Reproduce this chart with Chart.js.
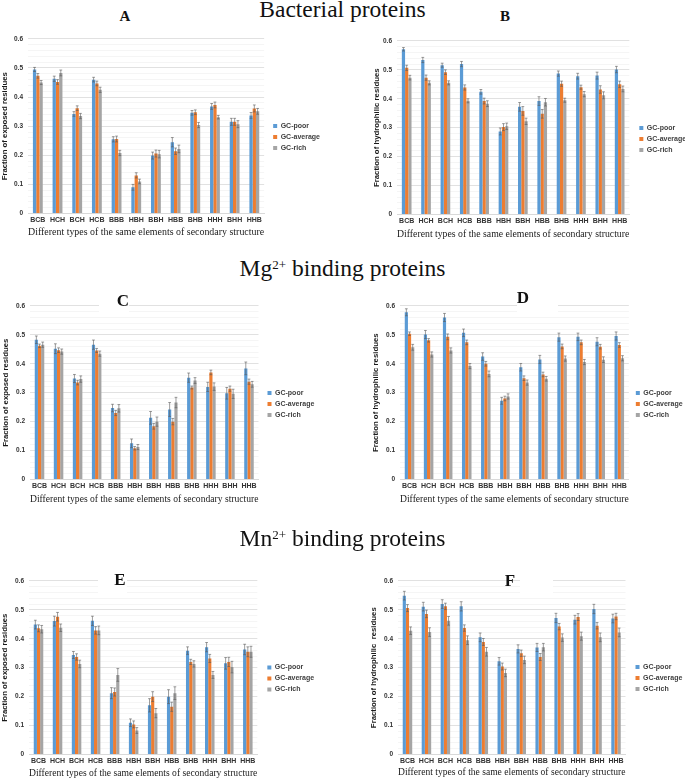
<!DOCTYPE html>
<html lang="en">
<head>
  <meta charset="UTF-8">
  <title>Exposed and hydrophilic residues by GC content</title>
  <script src="https://cdn.jsdelivr.net/npm/chart.js@4.4.1/dist/chart.umd.min.js"></script>
  <style>
    body {
      margin: 0;
      background: #fff;
      width: 685px;
      height: 779px;
      overflow: hidden;
      position: relative;
      font-family: "Liberation Serif", "Times New Roman", serif;
    }
    .heading {
      position: absolute;
      left: 0;
      width: 685px;
      text-align: center;
      font-size: 23.5px;
      line-height: 1;
      color: #111;
      z-index: 3;
    }
    .heading sup {
      font-size: 13px;
      line-height: 0;
      vertical-align: 7px;
    }
    .letter {
      position: absolute;
      width: 40px;
      text-align: center;
      font-weight: bold;
      line-height: 1;
      color: #111;
      z-index: 3;
    }
    .mask {
      position: absolute;
      background: #fff;
      z-index: 2;
    }
    canvas { position: absolute; z-index: 1; }
  </style>
</head>
<body>
  <div class="heading" style="top:-2px">Bacterial proteins</div>
  <div class="heading" style="top:257px">Mg<sup>2+</sup> binding proteins</div>
  <div class="heading" style="top:527px">Mn<sup>2+</sup> binding proteins</div>

  <div class="mask" style="left:99px;top:288px;width:30px;height:28px"></div>
  <div class="mask" style="left:517px;top:288px;width:41px;height:28px"></div>
  <div class="mask" style="left:98px;top:568px;width:29px;height:26px"></div>
  <div class="mask" style="left:520px;top:568px;width:33px;height:26px"></div>

  <div class="letter" style="left:105px;top:9px;font-size:15px">A</div>
  <div class="letter" style="left:485px;top:9px;font-size:15px">B</div>
  <div class="letter" style="left:103px;top:292px;font-size:17px">C</div>
  <div class="letter" style="left:503px;top:289px;font-size:17px">D</div>
  <div class="letter" style="left:100px;top:571px;font-size:17px">E</div>
  <div class="letter" style="left:490px;top:572px;font-size:17px">F</div>

  <script>
    const categories = ['BCB', 'HCH', 'BCH', 'HCB', 'BBB', 'HBH', 'BBH', 'HBB', 'BHB', 'HHH', 'BHH', 'HHB'];
    const seriesNames = ['GC-poor', 'GC-average', 'GC-rich'];
    const seriesColors = ['#5B9BD5', '#ED7D31', '#A5A5A5'];

    // A - bacterial proteins, exposed residues
    const aPoor = [0.495, 0.463, 0.342, 0.460, 0.255, 0.090, 0.199, 0.245, 0.346, 0.368, 0.315, 0.337];
    const aAverage = [0.473, 0.452, 0.362, 0.447, 0.256, 0.131, 0.206, 0.214, 0.348, 0.373, 0.315, 0.361];
    const aRich = [0.450, 0.483, 0.335, 0.425, 0.208, 0.110, 0.204, 0.222, 0.304, 0.331, 0.307, 0.351];
    const aPoorErr = [0.007, 0.009, 0.008, 0.008, 0.009, 0.010, 0.012, 0.016, 0.008, 0.010, 0.012, 0.010];
    const aAverageErr = [0.008, 0.008, 0.008, 0.008, 0.010, 0.009, 0.012, 0.011, 0.008, 0.010, 0.012, 0.012];
    const aRichErr = [0.007, 0.010, 0.009, 0.009, 0.009, 0.008, 0.013, 0.013, 0.009, 0.006, 0.012, 0.010];

    // B - bacterial proteins, hydrophilic residues
    const bPoor = [0.571, 0.534, 0.516, 0.520, 0.424, 0.287, 0.372, 0.392, 0.487, 0.478, 0.480, 0.501];
    const bAverage = [0.507, 0.473, 0.492, 0.439, 0.392, 0.302, 0.358, 0.348, 0.452, 0.440, 0.432, 0.450];
    const bRich = [0.473, 0.455, 0.455, 0.393, 0.383, 0.305, 0.322, 0.388, 0.395, 0.416, 0.412, 0.434];
    const bPoorErr = [0.006, 0.009, 0.007, 0.009, 0.008, 0.012, 0.015, 0.015, 0.009, 0.010, 0.012, 0.011];
    const bAverageErr = [0.009, 0.009, 0.008, 0.009, 0.010, 0.012, 0.015, 0.015, 0.009, 0.007, 0.013, 0.011];
    const bRichErr = [0.008, 0.007, 0.007, 0.007, 0.010, 0.011, 0.011, 0.013, 0.007, 0.009, 0.012, 0.010];

    // C - Mg2+ binding proteins, exposed residues
    const cPoor = [0.483, 0.452, 0.349, 0.466, 0.247, 0.125, 0.213, 0.242, 0.352, 0.320, 0.298, 0.384];
    const cAverage = [0.462, 0.447, 0.335, 0.446, 0.230, 0.108, 0.184, 0.200, 0.318, 0.370, 0.314, 0.338];
    const cRich = [0.466, 0.442, 0.347, 0.435, 0.246, 0.112, 0.200, 0.266, 0.342, 0.321, 0.296, 0.329];
    const cPoorErr = [0.013, 0.017, 0.014, 0.016, 0.013, 0.015, 0.022, 0.024, 0.016, 0.016, 0.020, 0.022];
    const cAverageErr = [0.006, 0.008, 0.008, 0.007, 0.009, 0.006, 0.010, 0.011, 0.005, 0.008, 0.009, 0.009];
    const cRichErr = [0.009, 0.009, 0.011, 0.009, 0.013, 0.009, 0.016, 0.018, 0.010, 0.013, 0.016, 0.010];

    // D - Mg2+ binding proteins, hydrophilic residues
    const dPoor = [0.578, 0.501, 0.560, 0.507, 0.425, 0.272, 0.388, 0.415, 0.492, 0.493, 0.476, 0.496];
    const dAverage = [0.504, 0.481, 0.493, 0.474, 0.400, 0.280, 0.350, 0.363, 0.460, 0.474, 0.459, 0.465];
    const dRich = [0.457, 0.432, 0.446, 0.392, 0.365, 0.287, 0.335, 0.348, 0.418, 0.406, 0.414, 0.419];
    const dPoorErr = [0.012, 0.014, 0.014, 0.013, 0.013, 0.012, 0.013, 0.014, 0.014, 0.013, 0.014, 0.014];
    const dAverageErr = [0.006, 0.006, 0.010, 0.008, 0.008, 0.008, 0.008, 0.008, 0.008, 0.008, 0.008, 0.008];
    const dRichErr = [0.010, 0.009, 0.009, 0.009, 0.010, 0.009, 0.009, 0.008, 0.009, 0.009, 0.010, 0.009];

    // E - Mn2+ binding proteins, exposed residues
    const ePoor = [0.449, 0.461, 0.344, 0.462, 0.212, 0.110, 0.170, 0.200, 0.359, 0.371, 0.315, 0.363];
    const eAverage = [0.436, 0.476, 0.337, 0.429, 0.216, 0.104, 0.200, 0.165, 0.320, 0.332, 0.320, 0.355];
    const eRich = [0.433, 0.438, 0.313, 0.429, 0.275, 0.083, 0.143, 0.212, 0.313, 0.275, 0.302, 0.355];
    const ePoorErr = [0.015, 0.017, 0.012, 0.016, 0.019, 0.013, 0.023, 0.024, 0.013, 0.016, 0.020, 0.018];
    const eAverageErr = [0.012, 0.015, 0.011, 0.013, 0.014, 0.012, 0.017, 0.016, 0.009, 0.014, 0.016, 0.017];
    const eRichErr = [0.013, 0.013, 0.013, 0.015, 0.022, 0.010, 0.016, 0.022, 0.011, 0.012, 0.020, 0.019];

    // F - Mn2+ binding proteins, hydrophilic residues
    const fPoor = [0.549, 0.511, 0.520, 0.512, 0.405, 0.322, 0.365, 0.370, 0.472, 0.466, 0.503, 0.470];
    const fAverage = [0.506, 0.486, 0.512, 0.437, 0.389, 0.304, 0.350, 0.337, 0.442, 0.475, 0.445, 0.477];
    const fRich = [0.428, 0.423, 0.462, 0.395, 0.355, 0.282, 0.327, 0.371, 0.404, 0.409, 0.405, 0.422];
    const fPoorErr = [0.015, 0.015, 0.015, 0.016, 0.015, 0.013, 0.014, 0.014, 0.016, 0.015, 0.016, 0.015];
    const fAverageErr = [0.012, 0.013, 0.011, 0.011, 0.012, 0.012, 0.011, 0.012, 0.011, 0.012, 0.011, 0.011];
    const fRichErr = [0.013, 0.015, 0.015, 0.015, 0.015, 0.013, 0.013, 0.013, 0.013, 0.014, 0.015, 0.015];

    const yTicks = [0, 0.1, 0.2, 0.3, 0.4, 0.5, 0.6];
    const xTitle = 'Different types of the same elements of secondary structure';
    const exposedTitle = 'Fraction of exposed residues';
    const hydroTitle = 'Fraction of hydrophilic residues';

    // where each panel sits on the page
    const panels = [
      { left: 0,   plotLeft: 28,  plotRight: 263, markerX: 272, plotTop: 35,  plotBottom: 213, xH: 25.5, yTitle: exposedTitle, values: [aPoor, aAverage, aRich], errors: [aPoorErr, aAverageErr, aRichErr] },
      { left: 372, plotLeft: 397, plotRight: 627, markerX: 637, plotTop: 36.5, plotBottom: 213.5, xH: 26.5, yTitle: hydroTitle, values: [bPoor, bAverage, bRich], errors: [bPoorErr, bAverageErr, bRichErr] },
      { left: 1,   plotLeft: 30,  plotRight: 256, markerX: 265, plotTop: 302, plotBottom: 479, xH: 26.5, yTitle: exposedTitle, values: [cPoor, cAverage, cRich], errors: [cPoorErr, cAverageErr, cRichErr] },
      { left: 371, plotLeft: 400, plotRight: 626, markerX: 633, plotTop: 302, plotBottom: 479, xH: 26.5, yTitle: hydroTitle, values: [dPoor, dAverage, dRich], errors: [dPoorErr, dAverageErr, dRichErr] },
      { left: 0,   plotLeft: 29,  plotRight: 255, markerX: 265, plotTop: 577, plotBottom: 754, xH: 25.5, yTitle: exposedTitle, values: [ePoor, eAverage, eRich], errors: [ePoorErr, eAverageErr, eRichErr] },
      { left: 369, plotLeft: 398, plotRight: 623, markerX: 633, plotTop: 577, plotBottom: 754, xH: 24.5, yTitle: 'Fraction of hydrophilic  residues', values: [fPoor, fAverage, fRich], errors: [fPoorErr, fAverageErr, fRichErr] }
    ];

    const sans = "'Liberation Sans', Arial, sans-serif";
    const serif = "'Liberation Serif', 'Times New Roman', serif";
    const legendFont = { size: 7, weight: 'bold', family: sans };
    const legendBox = 4;
    const legendPad = 4;

    const isMajor = v => Math.abs(v * 10 - Math.round(v * 10)) < 1e-6;

    const errorBars = {
      id: 'errorBars',
      afterDatasetsDraw(chart) {
        const ctx = chart.ctx;
        const y = chart.scales.y;
        ctx.save();
        ctx.strokeStyle = 'rgba(90, 90, 90, 0.75)';
        ctx.lineWidth = 0.8;
        chart.data.datasets.forEach((ds, i) => {
          chart.getDatasetMeta(i).data.forEach((bar, j) => {
            const top = y.getPixelForValue(ds.data[j] + ds.errors[j]);
            const bot = y.getPixelForValue(ds.data[j] - ds.errors[j]);
            ctx.beginPath();
            ctx.moveTo(bar.x, top); ctx.lineTo(bar.x, bot);
            ctx.moveTo(bar.x - 1.4, top); ctx.lineTo(bar.x + 1.4, top);
            ctx.moveTo(bar.x - 1.4, bot); ctx.lineTo(bar.x + 1.4, bot);
            ctx.stroke();
          });
        });
        ctx.restore();
      }
    };

    // legend width, the same way Chart.js measures it
    const probe = document.createElement('canvas').getContext('2d');
    probe.font = `bold ${legendFont.size}px ${sans}`;
    const textW = Math.max(...seriesNames.map(n => probe.measureText(n).width));
    const legendW = legendPad + legendBox + legendFont.size / 2 + textW + legendPad;

    panels.forEach(p => {
      const gap = p.markerX - p.plotRight - legendPad;
      const width = Math.ceil(p.plotRight - p.left + gap + legendW);
      const height = Math.round(p.plotBottom - p.plotTop + 5 + p.xH);
      const canvas = document.createElement('canvas');
      canvas.width = width;
      canvas.height = height;
      canvas.style.left = p.left + 'px';
      canvas.style.top = (p.plotTop - 5) + 'px';
      canvas.style.width = width + 'px';
      canvas.style.height = height + 'px';
      document.body.appendChild(canvas);

      new Chart(canvas, {
        type: 'bar',
        data: {
          labels: categories,
          datasets: seriesNames.map((name, i) => ({
            label: name,
            data: p.values[i],
            errors: p.errors[i],
            backgroundColor: seriesColors[i],
            borderWidth: 0,
            categoryPercentage: 0.5,
            barPercentage: 1.0
          }))
        },
        options: {
          responsive: false,
          animation: false,
          devicePixelRatio: 1,
          layout: { padding: { top: 5, left: 0, right: 0, bottom: 0 } },
          plugins: {
            tooltip: { enabled: false },
            legend: {
              position: 'right',
              align: 'center',
              labels: {
                boxWidth: legendBox,
                boxHeight: legendBox,
                padding: legendPad,
                font: legendFont,
                color: '#404040'
              }
            }
          },
          scales: {
            x: {
              grid: { display: false, drawTicks: false },
              border: { color: '#d9d9d9' },
              ticks: {
                font: { size: 7, weight: 'bold', family: sans },
                color: '#333',
                padding: 2.5,
                maxRotation: 0,
                autoSkip: false
              },
              title: {
                display: true,
                text: xTitle,
                font: { size: 10.5, family: serif },
                color: '#1a1a1a',
                padding: 0
              },
              afterFit: s => { s.height = p.xH; }
            },
            y: {
              min: yTicks[0],
              max: yTicks[yTicks.length - 1],
              border: { display: false },
              grid: {
                drawTicks: false,
                color: c => isMajor(c.tick.value) ? '#d9d9d9' : '#f3f3f3',
                lineWidth: 0.8
              },
              ticks: {
                stepSize: 0.02,
                maxTicksLimit: 40,
                autoSkip: false,
                padding: 5,
                font: { size: 6.5, weight: 'bold', family: sans },
                color: '#333',
                callback: v => isMajor(v) ? (Math.round(v * 10) === 0 ? '0' : (Math.round(v * 10) / 10).toFixed(1)) : ''
              },
              title: {
                display: true,
                text: p.yTitle,
                font: { size: 7.8, weight: 'bold', family: sans },
                color: '#1a1a1a',
                padding: 0
              },
              afterFit: s => { s.width = p.plotLeft - p.left; }
            },
            gap: {
              type: 'linear',
              position: 'right',
              display: true,
              grid: { display: false },
              border: { display: false },
              ticks: { display: false },
              afterFit: s => { s.width = gap; }
            }
          }
        },
        plugins: [errorBars]
      });
    });
  </script>
</body>
</html>
